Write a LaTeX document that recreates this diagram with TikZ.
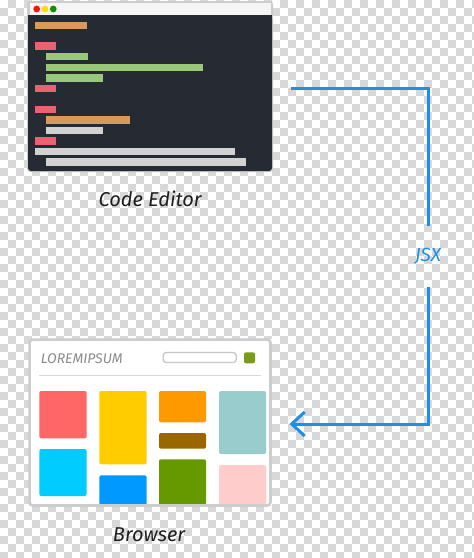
\documentclass[tikz,border=0pt]{standalone}
\usepackage{fontspec}
\setsansfont{Fira Sans}
\usetikzlibrary{arrows.meta}
\definecolor{chk}{HTML}{D8D8D8}
\definecolor{frame}{HTML}{CDCDCD}
\definecolor{edbg}{HTML}{262A33}
\definecolor{cOr}{HTML}{D9995B}
\definecolor{cRd}{HTML}{E8636F}
\definecolor{cGn}{HTML}{98C878}
\definecolor{cGy}{HTML}{D2D2D2}
\definecolor{jsxblue}{HTML}{1E8FE6}
\definecolor{tRed}{HTML}{FF6666}
\definecolor{tCyan}{HTML}{00CCFF}
\definecolor{tYel}{HTML}{FFCC00}
\definecolor{tBlue}{HTML}{0099FF}
\definecolor{tOr}{HTML}{FF9900}
\definecolor{tBrown}{HTML}{996600}
\definecolor{tGreen}{HTML}{669900}
\definecolor{tTeal}{HTML}{99CCCC}
\definecolor{tPink}{HTML}{FFCCCC}
\definecolor{olive}{HTML}{7A9A1A}
\tikzset{
  bar/.style={fill=#1},
  tile/.style={fill=#1, rounded corners=2pt},
  hand/.style={font=\sffamily\itshape, inner sep=0pt},
  conn/.style={draw=jsxblue, line width=3pt}
}
\begin{document}
\begin{tikzpicture}[x=1pt,y=-1pt]
\useasboundingbox (0,0) rectangle (474,558);
\fill[white] (0,0) rectangle (474,558);
% checkerboard background
\foreach \i in {0,...,29} {
  \foreach \j in {0,...,34} {
    \fill[chk] (16*\i+8,16*\j) rectangle (16*\i+16,16*\j+8);
    \fill[chk] (16*\i,16*\j+8) rectangle (16*\i+8,16*\j+16);
  }
}

% ---------- Code editor window ----------
\node[draw=none, fill=frame, rounded corners=3pt, minimum width=246pt, minimum height=171pt, inner sep=0pt] (editor) at (150,86.5) {};
\fill[white!96!black] (29.5,3) rectangle (270.5,15);
\fill[edbg, rounded corners=3pt] (28,15) -- (272,15) -- (272,171) -- (28,171) -- cycle;
\fill[edbg] (28,15) rectangle (272,20);
\fill[red!85!orange] (36.7,9) circle (3.4);
\fill[yellow!80!orange] (45,9) circle (3.4);
\fill[green!50!black!90!yellow] (53.3,9) circle (3.4);
\fill[bar=cOr] (35,21.7) rectangle (86.7,29);
\fill[bar=cRd] (35,42.3) rectangle (56,50);
\fill[bar=cGn] (45.7,53) rectangle (87.7,60.3);
\fill[bar=cGn] (45.7,63.7) rectangle (203.3,71);
\fill[bar=cGn] (45.7,74.3) rectangle (103,81.7);
\fill[bar=cRd] (35,84.7) rectangle (56,92);
\fill[bar=cRd] (35,106) rectangle (56,113.3);
\fill[bar=cOr] (45.7,116.3) rectangle (129.7,123.7);
\fill[bar=cGy] (45.7,127) rectangle (103,134.3);
\fill[bar=cRd] (35,137.3) rectangle (56,144.7);
\fill[bar=cGy] (35,147.7) rectangle (235,155.3);
\fill[bar=cGy] (45.7,158.3) rectangle (245.7,165.7);

\node[hand, font=\sffamily\itshape\fontsize{20}{20}\selectfont, text=black!88] (edlabel) at (150,199) {Code Editor};

% ---------- Browser window ----------
\node[fill=white, minimum width=243pt, minimum height=168pt, inner sep=0pt] (browser) at (150,422.5) {};
\node[hand, font=\sffamily\itshape\fontsize{14}{14}\selectfont, text=black!45, anchor=west] (logo) at (40.7,359) {LOREMIPSUM};
\node[draw=black!22, line width=1.3pt, rounded corners=3pt, minimum width=73pt, minimum height=10pt, inner sep=0pt] (search) at (199.7,357.5) {};
\node[fill=olive, rounded corners=2pt, minimum size=11pt, inner sep=0pt] (gobtn) at (249.5,357.8) {};
\draw[black!15, line width=1pt] (39,375.7) -- (260.7,375.7);
\fill[tile=tRed] (39.3,391) rectangle (86.7,438.3);
\fill[tile=tCyan] (39.3,449) rectangle (86.7,496);
\fill[tile=tYel] (99.3,391) rectangle (146.7,464.3);
\fill[tile=tOr] (159,391) rectangle (206,422.3);
\fill[tile=tBrown] (159,433) rectangle (206,448.7);
\fill[tile=tTeal] (219,391) rectangle (266,454);
\fill[tBlue, rounded corners=2pt] (99.3,505) -- (99.3,475.3) -- (146.7,475.3) -- (146.7,505) -- cycle;
\fill[tGreen, rounded corners=2pt] (159,505) -- (159,459.3) -- (206,459.3) -- (206,505) -- cycle;
\fill[tPink, rounded corners=2pt] (219,505) -- (219,465) -- (266,465) -- (266,505) -- cycle;
\draw[frame, line width=2.7pt, rounded corners=3pt] (29.6,339.6) rectangle (270.4,505.4);

\node[hand, font=\sffamily\itshape\fontsize{20}{20}\selectfont, text=black!88] (brlabel) at (149,535) {Browser};

% ---------- JSX connector ----------
\coordinate (cstart) at (291,88.5);
\coordinate (cend) at (289.5,424);
\node[hand, font=\sffamily\itshape\fontsize{19}{19}\selectfont, text=jsxblue, minimum height=61pt] (jsx) at (428,256.5) {JSX};
\draw[conn] (cstart) -| (jsx.north);
\draw[conn, -{Straight Barb[length=13pt,width=24pt,line width=3pt]}] (jsx.south) |- (cend);
\end{tikzpicture}
\end{document}
